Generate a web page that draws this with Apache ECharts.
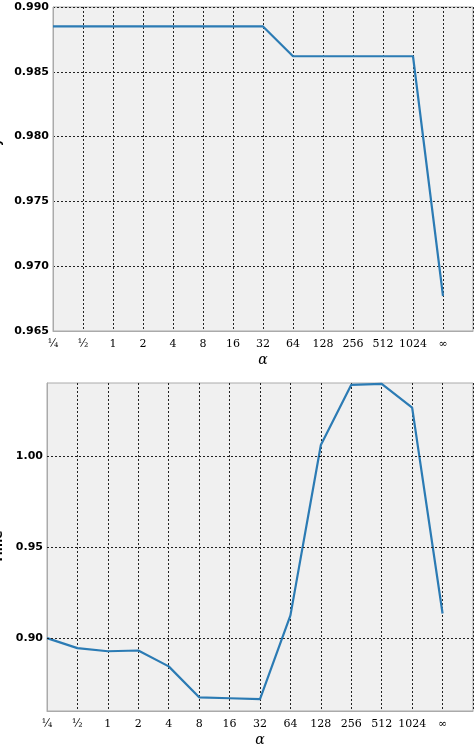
<!DOCTYPE html><html><head><meta charset="utf-8">
<script src="https://cdn.jsdelivr.net/npm/echarts@6/dist/echarts.min.js"></script>
<style>html,body{margin:0;padding:0;background:#fff}#c{width:474px;height:745px}</style></head><body><div id="c"></div>
<script>
const categories = ['¼','½','1','2','4','8','16','32','64','128','256','512','1024','∞'];
const accuracy = [0.9885,0.9885,0.9885,0.9885,0.9885,0.9885,0.9885,0.9885,0.9862,0.9862,0.9862,0.9862,0.9862,0.9677];
const time = [0.900,0.8945,0.8928,0.8932,0.8845,0.8675,0.867,0.8665,0.9125,1.006,1.039,1.0395,1.0265,0.9135];
const timeTicks = [0.90,0.95,1.00];
const chart = echarts.init(document.getElementById('c'));
const dotted = {show:true,lineStyle:{color:'#222',type:[2,2],width:1}};
function xAxis(i){return {type:'value',gridIndex:i,min:0,max:14,interval:1,
  name:'α',nameLocation:'middle',nameGap:22,nameTextStyle:{fontFamily:'DejaVu Serif',fontStyle:'italic',fontSize:14,color:'#000'},
  axisLine:{show:true,lineStyle:{color:'#aaa'}},axisTick:{show:false},splitLine:dotted,
  axisLabel:{fontFamily:'DejaVu Serif',fontSize:11,color:'#000',formatter:v=>categories[v]||'',showMaxLabel:false}};}
chart.setOption({
  animation:false,
  grid:[{left:53,top:7,right:1,height:324,show:true,backgroundColor:'#f0f0f0',borderColor:'#aaa',outerBoundsMode:'none',containLabel:false},
        {left:47,top:383,right:1,height:328,show:true,backgroundColor:'#f0f0f0',borderColor:'#aaa',outerBoundsMode:'none',containLabel:false}],
  xAxis:[xAxis(0),xAxis(1)],
  yAxis:[{type:'value',gridIndex:0,min:0.965,max:0.990,interval:0.005,name:'Accuracy',nameLocation:'middle',nameGap:44,
    nameTextStyle:{fontFamily:'DejaVu Sans',fontWeight:'bold',fontSize:12,color:'#000'},
    axisLine:{show:true,lineStyle:{color:'#aaa'}},axisTick:{show:false},splitLine:dotted,
    axisLabel:{fontFamily:'DejaVu Sans',fontWeight:'bold',fontSize:11,color:'#000',margin:4,formatter:v=>v.toFixed(3)}},
   {type:'value',gridIndex:1,min:0.86,max:1.04,interval:0.01,name:'Time',nameLocation:'middle',nameGap:38,
    nameTextStyle:{fontFamily:'DejaVu Sans',fontWeight:'bold',fontSize:12,color:'#000'},
    axisLine:{show:true,lineStyle:{color:'#aaa'}},axisTick:{show:false},splitLine:{show:false},
    axisLabel:{fontFamily:'DejaVu Sans',fontWeight:'bold',fontSize:11,color:'#000',margin:4,
      formatter:v=>timeTicks.some(t=>Math.abs(t-v)<1e-6)?v.toFixed(2):''}}],
  series:[
   {type:'line',xAxisIndex:0,yAxisIndex:0,data:accuracy.map((v,i)=>[i,v]),showSymbol:false,lineStyle:{color:'#2b7bb4',width:2.2},itemStyle:{color:'#2b7bb4'}},
   {type:'line',xAxisIndex:1,yAxisIndex:1,data:time.map((v,i)=>[i,v]),showSymbol:false,lineStyle:{color:'#2b7bb4',width:2.2},itemStyle:{color:'#2b7bb4'},
    markLine:{silent:true,symbol:'none',label:{show:false},lineStyle:{color:'#222',type:[2,2],width:1},data:timeTicks.map(t=>({yAxis:t}))},z:3}
  ]
});
</script></body></html>
